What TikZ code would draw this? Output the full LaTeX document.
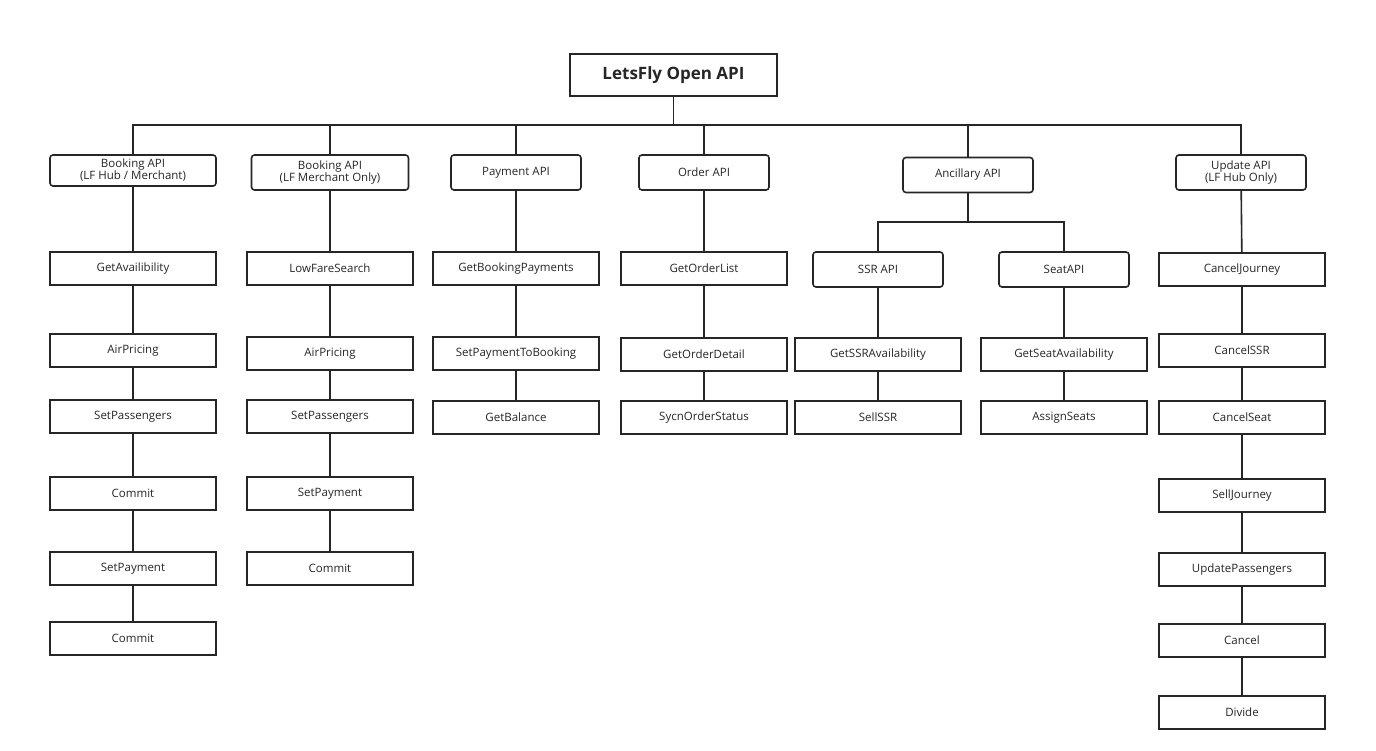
\documentclass[tikz,border=0pt]{standalone}
\usepackage{fontspec}
\setmainfont{Open Sans}
\begin{document}
\begin{tikzpicture}[x=1pt,y=-1pt,
  box/.style={draw=black!85,line width=1.6pt,minimum width=166pt,minimum height=33pt,inner sep=0pt,font=\fontsize{11.5}{13}\selectfont,text=black!85,align=center},
  rbox/.style={box,rounded corners=3pt,minimum width=130pt,minimum height=35pt},
  ln/.style={draw=black!85,line width=1.6pt}]
\useasboundingbox[fill=white] (0,0) rectangle (1376,750);
\node[box,minimum width=207pt,minimum height=42pt,font=\fontsize{17}{20}\selectfont\bfseries] (root) at (673.5,75) {LetsFly Open API};
\node[rbox,minimum width=166pt,minimum height=31pt,font=\fontsize{11.5}{12}\selectfont] (b1) at (133,170.5) {Booking API\\(LF Hub / Merchant)};
\node[rbox,minimum width=157pt,font=\fontsize{11.5}{12}\selectfont] (b2) at (330,172.5) {Booking API\\(LF Merchant Only)};
\node[rbox] (pay) at (516,172.5) {Payment API};
\node[rbox] (ord) at (704,172.5) {Order API};
\node[rbox] (anc) at (968,175) {Ancillary API};
\node[rbox,font=\fontsize{11.5}{12}\selectfont] (upd) at (1241,172.5) {Update API\\(LF Hub Only)};
\coordinate (bus) at (673,125);
\draw[ln] (root.south) -- (root.south |- bus);
\draw[ln] (b1.north) |- (upd.north |- bus) -- (upd.north);
\foreach \n in {b2,pay,ord,anc} \draw[ln] (\n.north) -- (\n.north |- bus);
% col1
\node[box] (a1) at (133,268.5) {GetAvailibility};
\node[box] (a2) at (133,350.5) {AirPricing};
\node[box] (a3) at (133,416.5) {SetPassengers};
\node[box] (a4) at (133,493.5) {Commit};
\node[box] (a5) at (133,568.5) {SetPayment};
\node[box] (a6) at (133,638.5) {Commit};
\draw[ln] (b1)--(a1)--(a2)--(a3)--(a4)--(a5)--(a6);
% col2
\node[box] (c1) at (330,268.5) {LowFareSearch};
\node[box] (c2) at (330,353.5) {AirPricing};
\node[box] (c3) at (330,416.5) {SetPassengers};
\node[box] (c4) at (330,493.5) {SetPayment};
\node[box] (c5) at (330,568.5) {Commit};
\draw[ln] (b2)--(c1)--(c2)--(c3)--(c4)--(c5);
% col3
\node[box] (p1) at (516,268.5) {GetBookingPayments};
\node[box] (p2) at (516,353.5) {SetPaymentToBooking};
\node[box] (p3) at (516,417.5) {GetBalance};
\draw[ln] (pay)--(p1)--(p2)--(p3);
% col4
\node[box] (o1) at (704,268.5) {GetOrderList};
\node[box] (o2) at (704,354.5) {GetOrderDetail};
\node[box] (o3) at (704,417.5) {SycnOrderStatus};
\draw[ln] (ord)--(o1)--(o2)--(o3);
% ancillary
\node[rbox] (ssr) at (878,269.5) {SSR API};
\node[rbox] (seat) at (1064,269.5) {SeatAPI};
\coordinate (sb) at (968,222);
\draw[ln] (anc.south) -- (sb);
\draw[ln] (ssr.north) |- (sb) -| (seat.north);
\node[box] (s1) at (878,354.5) {GetSSRAvailability};
\node[box] (s2) at (878,417.5) {SellSSR};
\draw[ln] (ssr)--(s1)--(s2);
\node[box] (t1) at (1064,354.5) {GetSeatAvailability};
\node[box] (t2) at (1064,417.5) {AssignSeats};
\draw[ln] (seat)--(t1)--(t2);
% update
\node[box] (u1) at (1242,269.5) {CancelJourney};
\node[box] (u2) at (1242,350.5) {CancelSSR};
\node[box] (u3) at (1242,417.5) {CancelSeat};
\node[box] (u4) at (1242,495.5) {SellJourney};
\node[box] (u5) at (1242,569.5) {UpdatePassengers};
\node[box] (u6) at (1242,640.5) {Cancel};
\node[box] (u7) at (1242,712.5) {Divide};
\draw[ln] (upd)--(u1)--(u2)--(u3)--(u4)--(u5)--(u6)--(u7);
\end{tikzpicture}
\end{document}
